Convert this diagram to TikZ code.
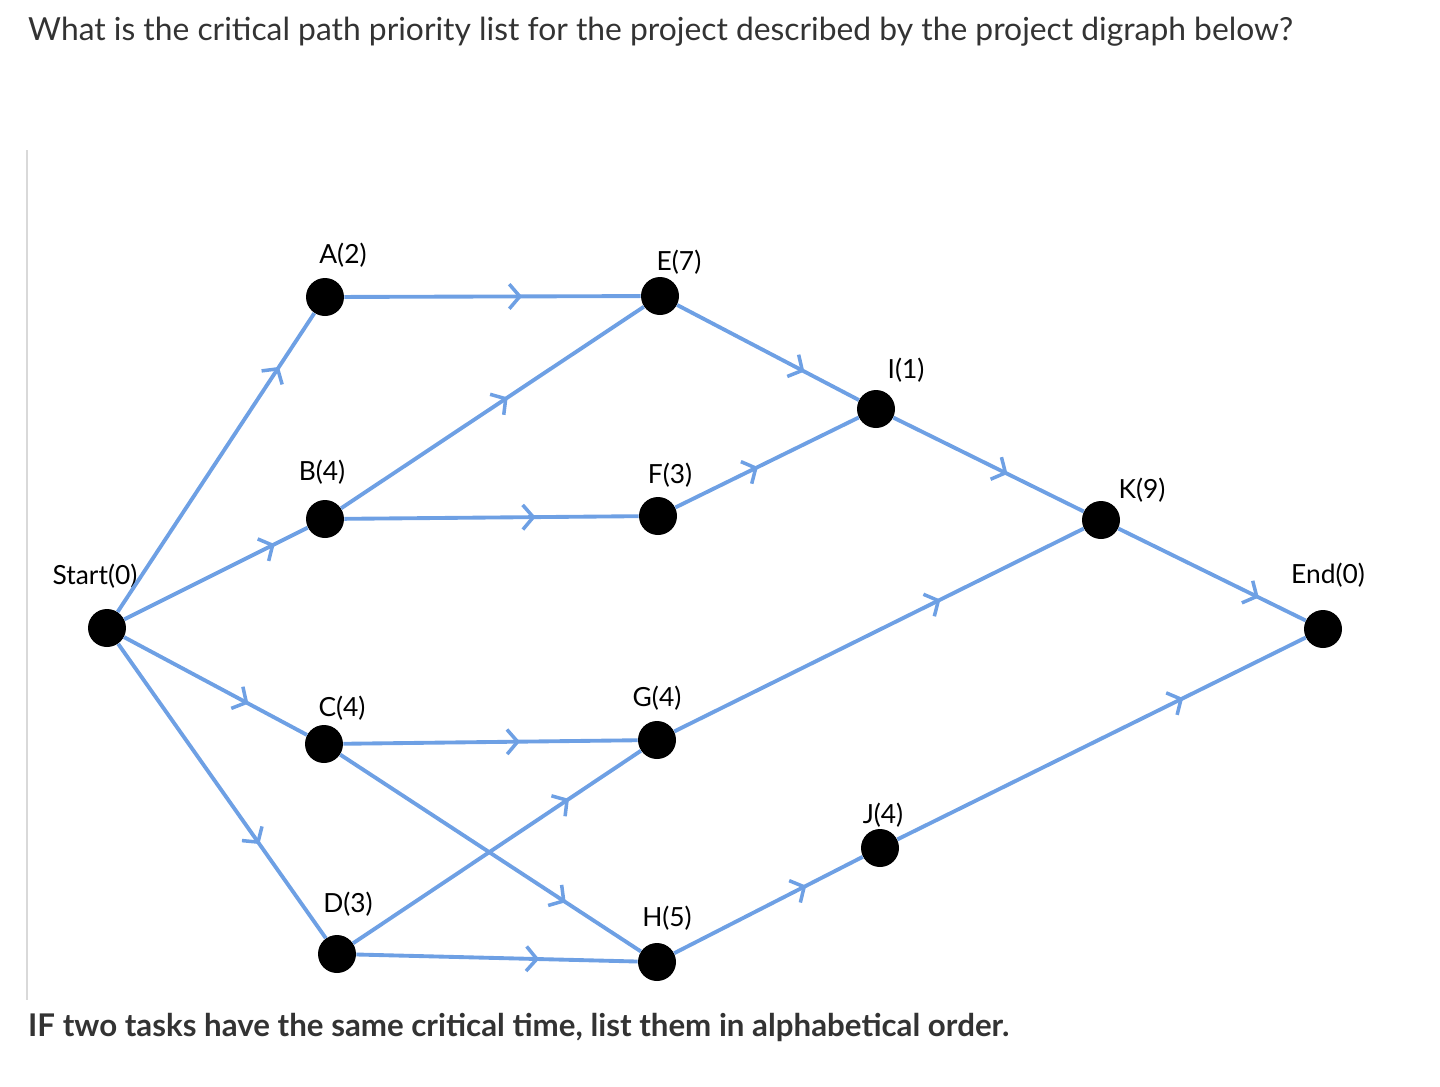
\documentclass[tikz,border=0pt]{standalone}
\usepackage{fontspec}
\setmainfont{Lato}
\usetikzlibrary{decorations.markings,arrows.meta}
\definecolor{eblue}{RGB}{110,160,228}
\tikzset{
  pt/.style={circle,fill=black,inner sep=0pt,minimum size=0.76cm},
  lbl/.style={font=\fontsize{15}{15}\selectfont},
  edge/.style={draw=eblue,line width=2.2pt,postaction={decorate},
    decoration={markings,mark=at position #1 with {\arrow[eblue,line width=2pt]{Straight Barb[length=6pt,width=14pt]}}}},
  edge/.default=0.6
}
\begin{document}
\begin{tikzpicture}[x=0.02cm,y=-0.02cm]
\useasboundingbox (0,0) rectangle (1440,1086);
\draw[gray!30,line width=1.5pt] (27,150) -- (27,1000);
\node[anchor=west,font=\fontsize{18.1}{18.1}\selectfont,text=black!80] (title) at (22,32) {What is the critical path priority list for the project described by the project digraph below?};
\node[anchor=west,font=\fontsize{17.8}{17.8}\selectfont\bfseries,text=black!80] (foot) at (22,1027) {IF two tasks have the same critical time, list them in alphabetical order.};
\node[pt] (S) at (107,628) {};
\node[pt] (A) at (325,297) {};
\node[pt] (B) at (325,519) {};
\node[pt] (C) at (324,744) {};
\node[pt] (D) at (337,954) {};
\node[pt] (E) at (660,296) {};
\node[pt] (F) at (658,516) {};
\node[pt] (G) at (657,740) {};
\node[pt] (H) at (657,962) {};
\node[pt] (I) at (876,409) {};
\node[pt] (J) at (880,848) {};
\node[pt] (K) at (1101,520) {};
\node[pt] (N) at (1323,629) {};
\node[lbl] (lS) at (95,576) {Start(0)};
\node[lbl] (lA) at (343,255) {A(2)};
\node[lbl] (lE) at (679,262) {E(7)};
\node[lbl] (lI) at (906,370) {I(1)};
\node[lbl] (lB) at (322,472) {B(4)};
\node[lbl] (lF) at (670,475) {F(3)};
\node[lbl] (lK) at (1142,490) {K(9)};
\node[lbl] (lN) at (1328,575) {End(0)};
\node[lbl] (lC) at (342,708) {C(4)};
\node[lbl] (lG) at (657,698) {G(4)};
\node[lbl] (lJ) at (883,815) {J(4)};
\node[lbl] (lD) at (348,904) {D(3)};
\node[lbl] (lH) at (667,918) {H(5)};
\draw[edge=0.82] (S) -- (A);
\draw[edge=0.82] (S) -- (B);
\draw[edge=0.68] (S) -- (C);
\draw[edge=0.68] (S) -- (D);
\draw[edge=0.6] (A) -- (E);
\draw[edge=0.55] (B) -- (E);
\draw[edge=0.65] (B) -- (F);
\draw[edge=0.6] (C) -- (G);
\draw[edge=0.75] (C) -- (H);
\draw[edge=0.75] (D) -- (G);
\draw[edge=0.65] (D) -- (H);
\draw[edge=0.7] (E) -- (I);
\draw[edge=0.45] (F) -- (I);
\draw[edge=0.65] (G) -- (K);
\draw[edge=0.6] (I) -- (K);
\draw[edge=0.7] (H) -- (J);
\draw[edge=0.7] (J) -- (N);
\draw[edge=0.75] (K) -- (N);
\end{tikzpicture}
\end{document}
